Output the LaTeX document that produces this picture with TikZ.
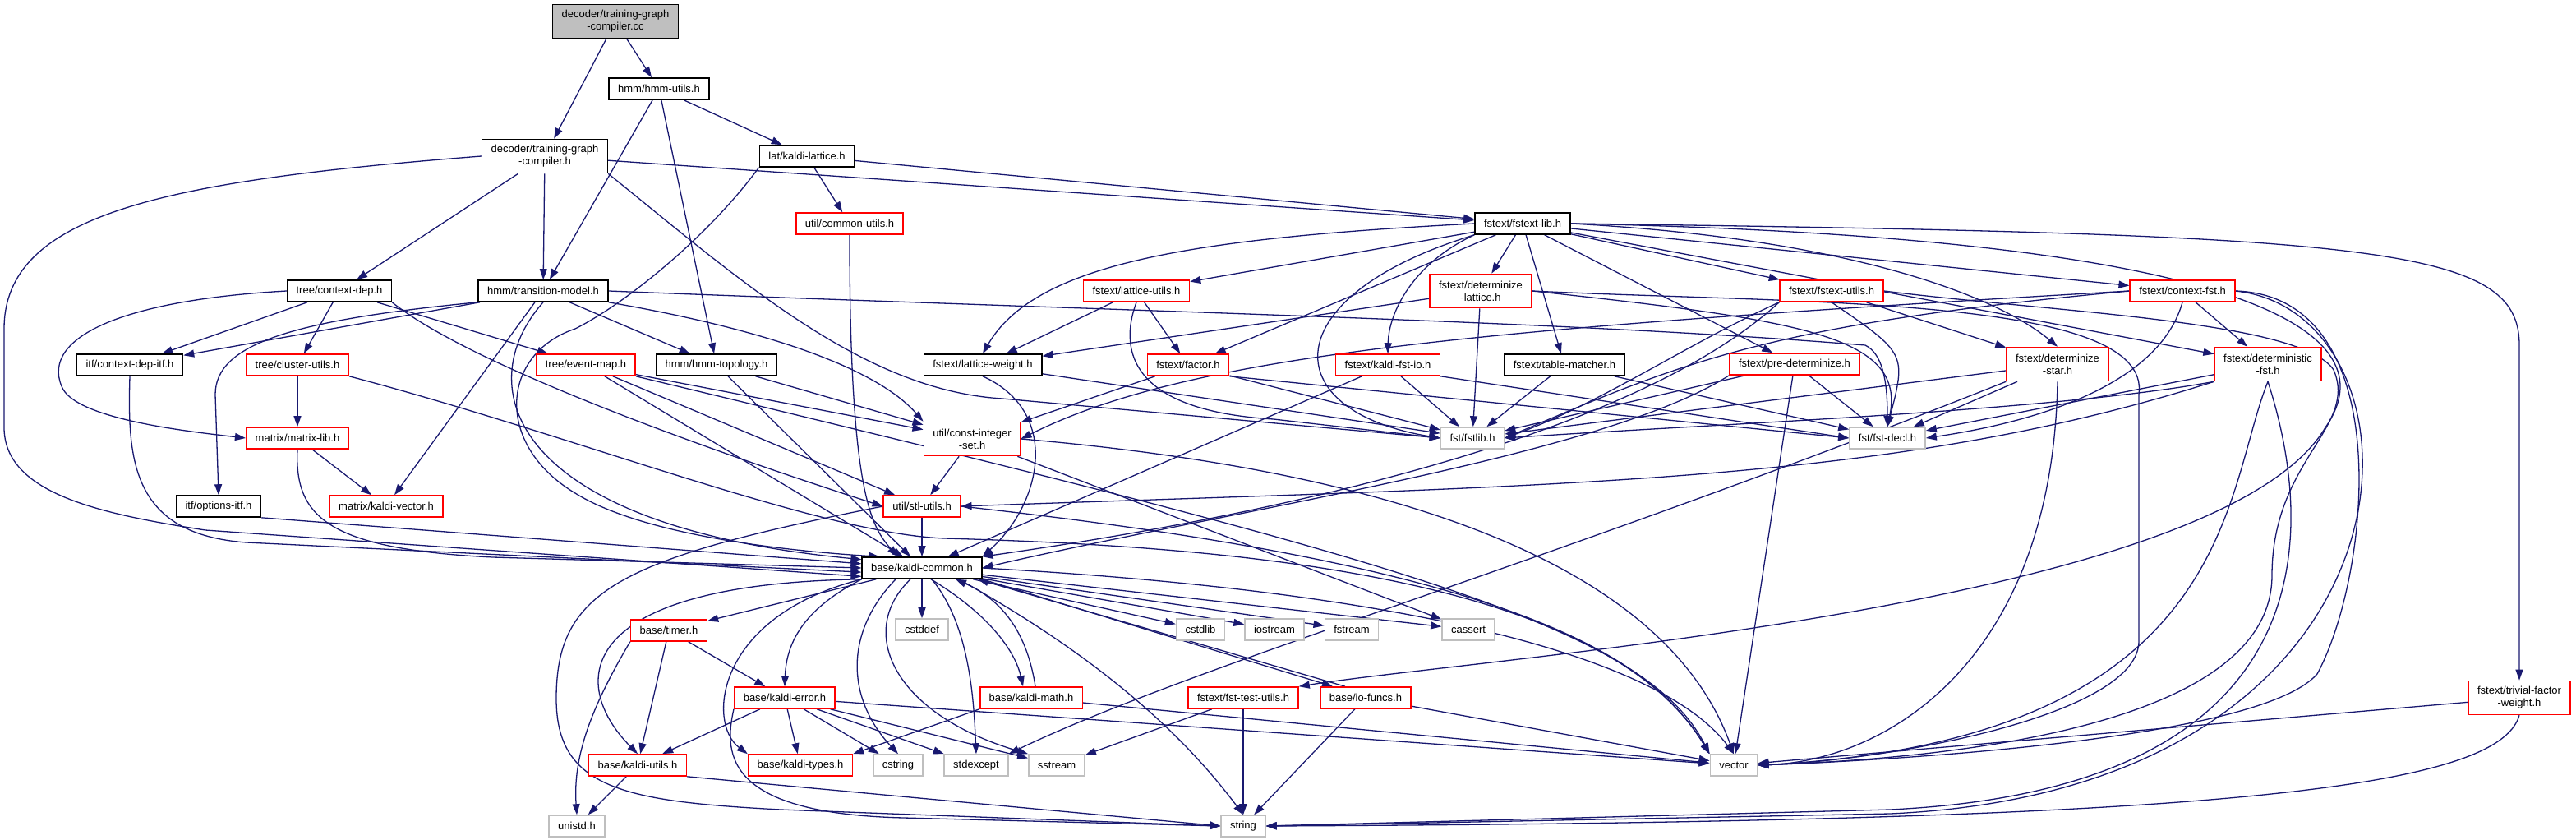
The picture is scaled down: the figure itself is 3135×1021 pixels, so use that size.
\documentclass[tikz,border=0pt]{standalone}
\usepackage{fontspec}
\setmainfont{Liberation Sans}
\usetikzlibrary{arrows.meta}
\definecolor{incblue}{RGB}{25,25,112}
\definecolor{sysgray}{RGB}{191,191,191}
\pgfdeclarelayer{edges}
\pgfsetlayers{edges,main}
\tikzset{
  hdr/.style={draw=black, line width=1.6pt, fill=white, align=center,
    font=\fontsize{13}{15}\selectfont, inner xsep=11pt, inner ysep=3pt, minimum height=26pt},
  trunc/.style={hdr, draw=red},
  sys/.style={hdr, draw=sysgray},
  two/.style={minimum height=41pt},
  inc/.style={draw=incblue, line width=1.3pt, -{Triangle[length=13pt,width=9pt]}}
}
\begin{document}
\begin{tikzpicture}[x=1pt,y=-1pt]
\useasboundingbox (0,0) rectangle (3135,1021);
% headers, top to bottom
\node[hdr,two,fill=sysgray] (cc) at (749,26) {decoder/training-graph\\-compiler.cc};
\node[hdr] (hmmutils) at (802,108) {hmm/hmm-utils.h};
\node[hdr,two] (tgch) at (663,190) {decoder/training-graph\\-compiler.h};
\node[hdr] (kaldilattice) at (982,190) {lat/kaldi-lattice.h};
\node[trunc] (commonutils) at (1034,272) {util/common-utils.h};
\node[hdr] (fstextlib) at (1853,272) {fstext/fstext-lib.h};
\node[hdr] (contextdep) at (413,354) {tree/context-dep.h};
\node[hdr] (transmodel) at (661,354) {hmm/transition-model.h};
\node[trunc] (latticeutils) at (1383,354) {fstext/lattice-utils.h};
\node[trunc,two] (detlattice) at (1802,354) {fstext/determinize\\-lattice.h};
\node[trunc] (fstextutils) at (2229,354) {fstext/fstext-utils.h};
\node[trunc] (contextfst) at (2656,354) {fstext/context-fst.h};
\node[hdr] (cdepitf) at (158,444) {itf/context-dep-itf.h};
\node[trunc] (clusterutils) at (362,444) {tree/cluster-utils.h};
\node[trunc] (eventmap) at (713,444) {tree/event-map.h};
\node[hdr] (hmmtopo) at (872,444) {hmm/hmm-topology.h};
\node[hdr] (latticeweight) at (1196,444) {fstext/lattice-weight.h};
\node[trunc] (factor) at (1446,444) {fstext/factor.h};
\node[trunc] (kaldifstio) at (1689,444) {fstext/kaldi-fst-io.h};
\node[hdr] (tablematcher) at (1904,444) {fstext/table-matcher.h};
\node[trunc] (predet) at (2184,443) {fstext/pre-determinize.h};
\node[trunc,two] (detstar) at (2504,443) {fstext/determinize\\-star.h};
\node[trunc,two] (detfst) at (2760,443) {fstext/deterministic\\-fst.h};
\node[trunc] (matrixlib) at (362,533) {matrix/matrix-lib.h};
\node[trunc,two] (constintset) at (1183,534) {util/const-integer\\-set.h};
\node[sys] (fstlib) at (1792,533) {fst/fstlib.h};
\node[sys] (fstdecl) at (2297,533) {fst/fst-decl.h};
\node[hdr] (optionsitf) at (266,616) {itf/options-itf.h};
\node[trunc] (kaldivector) at (470,616) {matrix/kaldi-vector.h};
\node[trunc] (stlutils) at (1122,616) {util/stl-utils.h};
\node[hdr] (kaldicommon) at (1122,691) {base/kaldi-common.h};
\node[trunc] (timer) at (814,767) {base/timer.h};
\node[sys] (cstddef) at (1122,766) {cstddef};
\node[sys] (cstdlib) at (1461,766) {cstdlib};
\node[sys] (iostream) at (1551,766) {iostream};
\node[sys] (fstream) at (1645,766) {fstream};
\node[sys] (cassert) at (1787,766) {cassert};
\node[trunc] (kaldierror) at (955,849) {base/kaldi-error.h};
\node[trunc] (kaldimath) at (1255,849) {base/kaldi-math.h};
\node[trunc] (fsttestutils) at (1513,849) {fstext/fst-test-utils.h};
\node[trunc] (iofuncs) at (1662,849) {base/io-funcs.h};
\node[trunc,two] (trivialfactor) at (3066,849) {fstext/trivial-factor\\-weight.h};
\node[trunc] (kaldiutils) at (776,931) {base/kaldi-utils.h};
\node[trunc] (kalditypes) at (974,931) {base/kaldi-types.h};
\node[sys] (cstring) at (1093,931) {cstring};
\node[sys] (stdexcept) at (1188,931) {stdexcept};
\node[sys] (sstream) at (1286,931) {sstream};
\node[sys] (vector) at (2110,931) {vector};
\node[sys] (unistd) at (702,1005) {unistd.h};
\node[sys] (string) at (1513,1005) {string};

\begin{pgfonlayer}{edges}
% straight includes
\foreach \a/\b in {cc/tgch, cc/hmmutils,
    hmmutils/transmodel, hmmutils/hmmtopo, hmmutils/kaldilattice,
    tgch/fstextlib, tgch/contextdep, tgch/transmodel,
    kaldilattice/fstextlib, kaldilattice/commonutils,
    fstextlib/latticeutils, fstextlib/factor, fstextlib/detlattice, fstextlib/tablematcher,
    fstextlib/predet, fstextlib/fstextutils, fstextlib/contextfst, fstextlib/detfst,
    contextdep/cdepitf, contextdep/clusterutils, contextdep/eventmap,
    transmodel/cdepitf, transmodel/kaldivector, transmodel/hmmtopo,
    latticeutils/latticeweight, latticeutils/factor,
    detlattice/latticeweight, detlattice/fstlib,
    fstextutils/detstar, contextfst/detfst,
    clusterutils/matrixlib, matrixlib/kaldivector,
    eventmap/constintset, eventmap/stlutils, eventmap/kaldicommon,
    hmmtopo/kaldicommon, hmmtopo/constintset,
    latticeweight/fstlib,
    factor/constintset, factor/fstlib,
    kaldifstio/fstlib, kaldifstio/kaldicommon,
    tablematcher/fstlib, tablematcher/fstdecl,
    predet/fstlib, predet/fstdecl, predet/vector,
    detstar/fstlib, detstar/fstdecl, detfst/fstdecl,
    constintset/stlutils, constintset/cassert,
    stlutils/kaldicommon,
    kaldicommon/cstddef, kaldicommon/cstdlib, kaldicommon/iostream, kaldicommon/fstream,
    kaldicommon/cassert, kaldicommon/timer,
    timer/kaldiutils, timer/kaldierror,
    kaldierror/kaldiutils, kaldierror/kalditypes, kaldierror/cstring, kaldierror/stdexcept,
    kaldierror/sstream, kaldierror/vector,
    kaldimath/vector, fsttestutils/sstream, fsttestutils/string,
    iofuncs/string, iofuncs/vector, kaldiutils/unistd, trivialfactor/vector}
  \draw[inc] (\a) -- (\b);

% routed includes
\draw[inc] (tgch.west) .. controls (200,220) and (5,260) .. (5,400) -- (5,520)
  .. controls (5,600) and (120,625) .. (250,645) -- (kaldicommon.188);
\draw[inc] (tgch.south east) .. controls (900,340) and (1050,475) .. (1220,485) -- (fstlib.west);
\draw[inc] (kaldilattice.south west) .. controls (860,290) and (760,370) .. (700,400)
  .. controls (610,430) and (600,540) .. (700,600) .. controls (780,650) and (950,670) .. (kaldicommon.165);
\draw[inc] (commonutils.south) .. controls (1034,600) and (1060,640) .. (kaldicommon.155);
\draw[inc] (fstextlib.south west) .. controls (1550,360) and (1550,500) .. (fstlib.west);
\draw[inc] (fstextlib.west) .. controls (1450,290) and (1260,320) .. (latticeweight.north);
\draw[inc] (fstextlib.south west) .. controls (1720,320) and (1690,380) .. (kaldifstio.north);
\draw[inc] (fstextlib.east) .. controls (2250,290) and (2430,360) .. (detstar.north);
\draw[inc] (fstextlib.east) .. controls (2800,290) and (2900,420) .. (2830,520)
  .. controls (2700,740) and (1800,800) .. (fsttestutils.north east);
\draw[inc] (fstextlib.east) .. controls (2900,285) and (3066,300) .. (3066,420) -- (trivialfactor.north);
\draw[inc] (contextdep.west) .. controls (150,365) and (50,410) .. (75,470)
  .. controls (90,510) and (230,525) .. (matrixlib.west);
\draw[inc] (contextdep.south east) .. controls (580,450) and (900,560) .. (stlutils.west);
\draw[inc] (transmodel.south west) .. controls (350,390) and (262,420) .. (262,480) -- (optionsitf.north);
\draw[inc] (transmodel.south) .. controls (570,470) and (620,640) .. (kaldicommon.172);
\draw[inc] (transmodel.south east) .. controls (900,395) and (1060,440) .. (constintset.north west);
\draw[inc] (transmodel.east) .. controls (1400,380) and (1900,390) .. (2270,420)
  .. controls (2290,430) and (2297,460) .. (fstdecl.north);
\draw[inc] (cdepitf.south) .. controls (155,560) and (160,650) .. (300,660) -- (kaldicommon.184);
\draw[inc] (matrixlib.south) .. controls (358,630) and (400,668) .. (600,678) -- (kaldicommon.180);
\draw[inc] (optionsitf.south east) -- (kaldicommon.176);
\draw[inc] (clusterutils.south east) .. controls (700,530) and (1000,650) .. (1150,655)
  .. controls (1500,665) and (1950,700) .. (vector.north west);
\draw[inc] (eventmap.south east) .. controls (1700,680) and (2000,760) .. (vector.north west);
\draw[inc] (latticeutils.south) .. controls (1360,430) and (1380,500) .. (1550,510) -- (fstlib.west);
\draw[inc] (latticeweight.south) .. controls (1290,500) and (1270,610) .. (kaldicommon.north east);
\draw[inc] (detlattice.east) .. controls (2200,390) and (2320,410) .. (fstdecl.north);
\draw[inc] (detlattice.east) .. controls (2200,370) and (2620,360) .. (2603,480) -- (2603,780)
  .. controls (2603,870) and (2300,925) .. (vector.east);
\draw[inc] (fstextutils.south west) .. controls (2050,420) and (1950,490) .. (fstlib.east);
\draw[inc] (fstextutils.south) .. controls (2320,430) .. (fstdecl.north);
\draw[inc] (fstextutils.south west) .. controls (2000,520) and (1600,620) .. (kaldicommon.north east);
\draw[inc] (fstextutils.east) .. controls (2500,380) and (2800,390) .. (2840,450)
  .. controls (2870,520) and (2765,560) .. (2765,700) .. controls (2765,900) and (2300,925) .. (vector.east);
\draw[inc] (contextfst.west) .. controls (1800,400) and (1450,430) .. (constintset.east);
\draw[inc] (contextfst.west) .. controls (2150,395) and (2050,440) .. (fstlib.east);
\draw[inc] (contextfst.south) .. controls (2630,460) and (2500,510) .. (fstdecl.east);
\draw[inc] (contextfst.east) .. controls (2920,360) and (2885,700) .. (2820,820)
  .. controls (2750,900) and (2300,925) .. (vector.east);
\draw[inc] (contextfst.east) .. controls (2970,380) and (2975,960) .. (2300,990) -- (string.east);
\draw[inc] (factor.south east) -- (fstdecl.west);
\draw[inc] (kaldifstio.south east) -- (fstdecl.west);
\draw[inc] (predet.south west) .. controls (1950,555) and (1500,620) .. (kaldicommon.east);
\draw[inc] (detstar.south west) .. controls (1900,680) and (1450,810) .. (stdexcept.north east);
\draw[inc] (detstar.south) .. controls (2498,800) and (2300,925) .. (vector.east);
\draw[inc] (detfst.south west) .. controls (2500,500) and (2100,515) .. (fstlib.east);
\draw[inc] (detfst.south west) .. controls (2300,590) and (1900,590) .. (stlutils.east);
\draw[inc] (detfst.south) .. controls (2705,600) and (2720,900) .. (vector.east);
\draw[inc] (detfst.south) .. controls (2820,650) and (2830,960) .. (2300,985) -- (string.east);
\draw[inc] (constintset.east) .. controls (1900,590) and (2060,780) .. (vector.north);
\draw[inc] (stlutils.east) .. controls (1850,690) and (2010,800) .. (vector.north west);
\draw[inc] (stlutils.west) .. controls (750,680) and (677,720) .. (677,850)
  .. controls (677,960) and (760,975) .. (950,985) -- (string.west);
\draw[inc] (kaldicommon.south west) .. controls (980,740) and (957,780) .. (kaldierror.north);
\draw[inc] (kaldicommon.south west) .. controls (700,710) and (690,830) .. (kaldiutils.north);
\draw[inc] (kaldicommon.south west) .. controls (870,750) and (860,880) .. (kalditypes.north west);
\draw[inc] ([xshift=-32pt]kaldicommon.south) .. controls (1027,770) and (1030,850) .. (cstring.north);
\draw[inc] ([xshift=-14pt]kaldicommon.south) .. controls (1040,770) and (1090,870) .. (sstream.north west);
\draw[inc] ([xshift=12pt]kaldicommon.south) .. controls (1180,760) and (1185,850) .. (stdexcept.north);
\draw[inc] ([xshift=11pt]kaldicommon.south) .. controls (1200,745) and (1235,790) .. ([xshift=-10pt]kaldimath.north);
\draw[inc] ([xshift=5pt]kaldimath.north) .. controls (1250,770) and (1220,730) .. ([xshift=41pt]kaldicommon.south);
\draw[inc] ([xshift=45pt]kaldicommon.south) .. controls (1320,790) and (1430,880) .. (string.north);
\draw[inc] (kaldicommon.south east) -- ([xshift=-40pt]iofuncs.north);
\draw[inc] ([xshift=-25pt]iofuncs.north) -- ([xshift=68pt]kaldicommon.south);
\draw[inc] (kaldicommon.east) .. controls (1900,730) and (2060,850) .. (vector.north);
\draw[inc] (timer.south west) .. controls (720,860) and (697,920) .. (unistd.north);
\draw[inc] (kaldierror.south west) .. controls (880,920) and (885,990) .. (1100,995) -- (string.west);
\draw[inc] (kaldimath.south west) -- (kalditypes.north east);
\draw[inc] (kaldiutils.south east) -- (string.west);
\draw[inc] (trivialfactor.south) .. controls (3040,960) and (2700,1000) .. (string.east);
\end{pgfonlayer}
\end{tikzpicture}
\end{document}
